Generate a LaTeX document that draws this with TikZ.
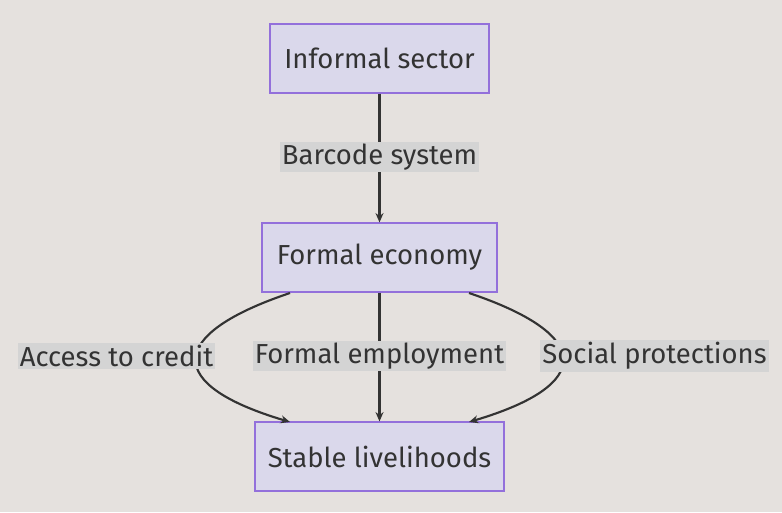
\documentclass[tikz,border=0pt]{standalone}
\usepackage{fontspec}
\setmainfont{Fira Sans}
\usetikzlibrary{arrows.meta}
\definecolor{bg_gray}{RGB}{229,225,222}
\definecolor{node_fill}{RGB}{218,216,235}
\definecolor{node_edge}{RGB}{147,112,219}
\definecolor{label_fill}{RGB}{212,212,212}
\definecolor{edge_dark}{RGB}{51,51,51}
\begin{document}
\begin{tikzpicture}[x=0.75pt,y=-0.75pt,>={Stealth[length=7pt,width=6pt]},line width=1.6pt]
    \tikzstyle{box}=[draw=node_edge, line width=0.9pt, fill=node_fill, text=edge_dark, minimum height=51.75pt, inner xsep=8pt, font=\fontsize{20.6}{24}\selectfont]
    \tikzstyle{lbl}=[fill=label_fill, text=edge_dark, inner sep=1.5pt, font=\fontsize{20.6}{24}\selectfont]
    \tikzstyle{link}=[->, draw=edge_dark]

    \fill[bg_gray] (0,0) rectangle (782,512);
    \useasboundingbox (0,0) rectangle (782,512);

    \node[box, minimum width=164.25pt] (is) at (379.5,58.5)  {Informal sector};
    \node[box, minimum width=176.25pt] (fe) at (379.5,257.5) {Formal economy};
    \node[box, minimum width=186.75pt] (sl) at (379.5,456.5) {Stable livelihoods};

    \coordinate (fel) at (290,293);
    \coordinate (fer) at (469,293);
    \coordinate (sll) at (290,422);
    \coordinate (slr) at (469,422);

    \draw[link] (is) -- (fe);
    \draw[link] (fe) -- (sl);
    \draw[link] (fel) .. controls (165,335) and (165,385) .. (sll);
    \draw[link] (fer) .. controls (594,335) and (594,385) .. (slr);

    \node[lbl] (bs) at (379.5,157) {Barcode system};
    \node[lbl] (ac) at (116.5,356) {Access to credit};
    \node[lbl] (em) at (379.5,356) {Formal employment};
    \node[lbl] (sp) at (654.5,356) {Social protections};
\end{tikzpicture}
\end{document}
